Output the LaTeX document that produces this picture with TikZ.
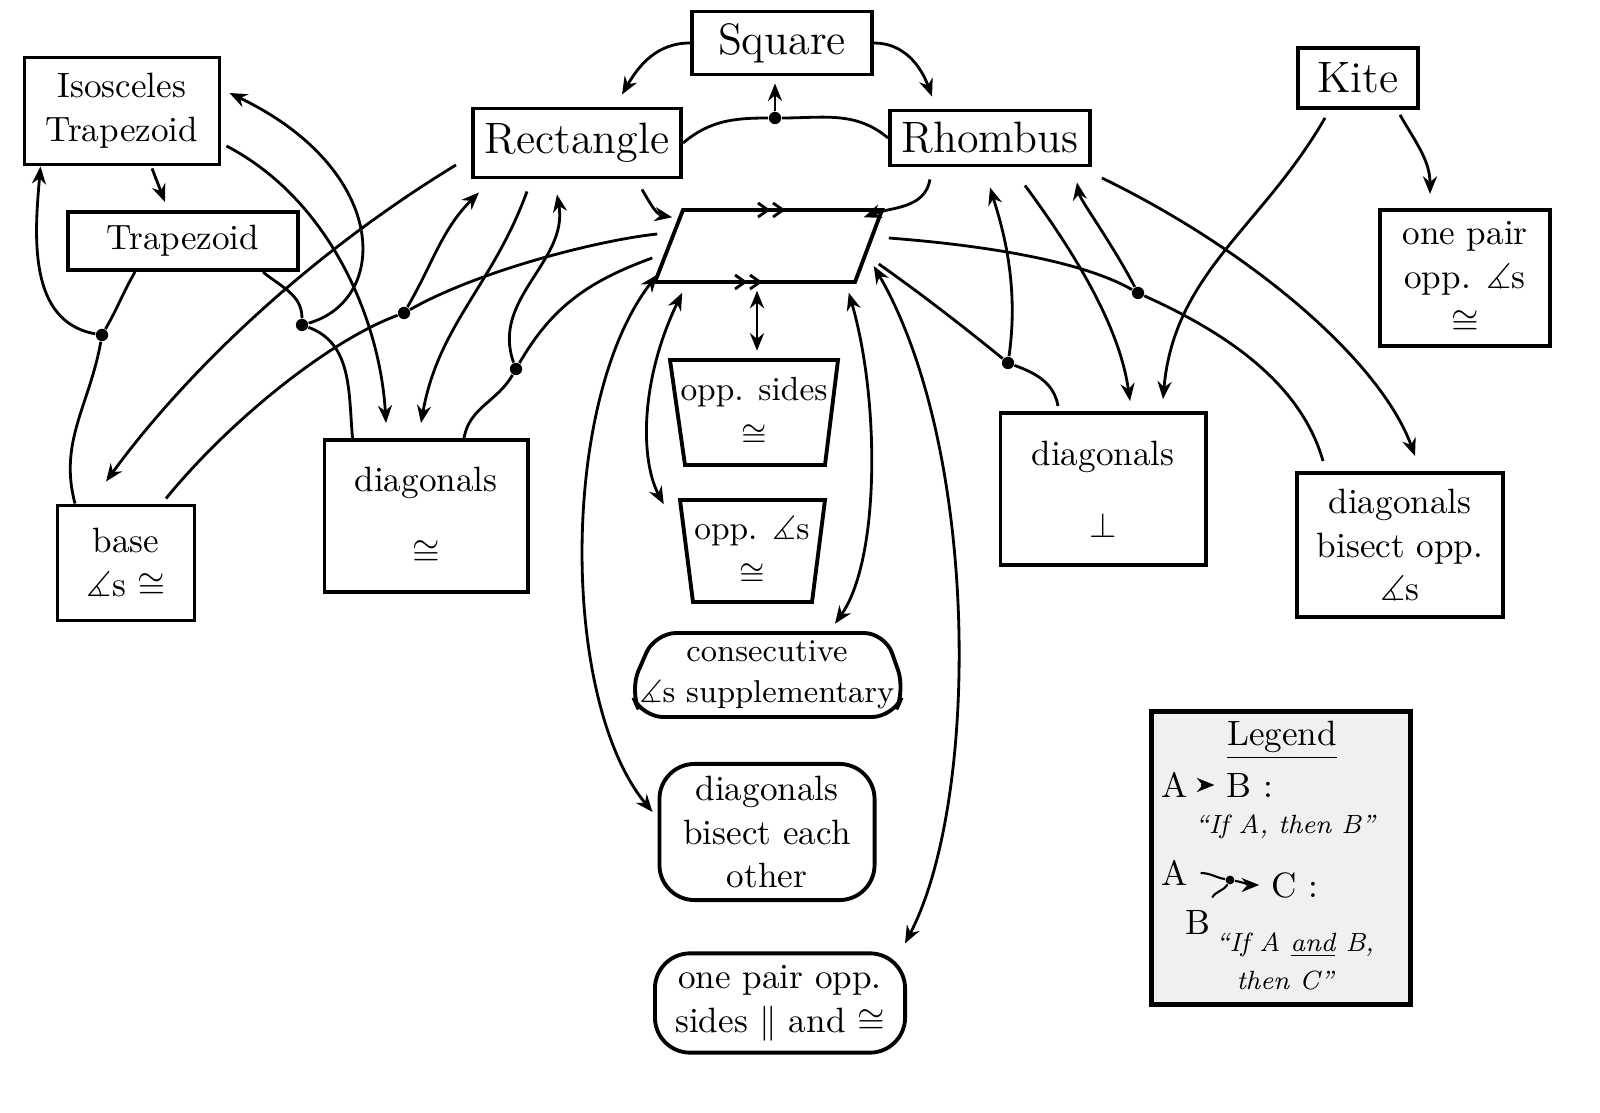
\documentclass[tikz,border=0pt]{standalone}
\usepackage{amssymb}
\usetikzlibrary{arrows.meta,calc}
\begin{document}
\begin{tikzpicture}[x=0.01cm,y=-0.01cm,
 bx/.style={draw,line width=1.1pt,align=center,font=\fontsize{10}{12.5}\selectfont},
 tx/.style={align=center,font=\fontsize{10}{12.5}\selectfont},
 big/.style={font=\fontsize{12.5}{13}\selectfont},
 shp/.style={line width=1.1pt},
 con/.style={line width=0.8pt},
 arr/.style={con,-{Stealth[length=5pt,width=4pt]}},
 darr/.style={con,{Stealth[length=5pt,width=4pt]}-{Stealth[length=5pt,width=4pt]}},
 dot/.style={circle,fill,inner sep=0pt,minimum size=3.5pt}]
\useasboundingbox (0,0) rectangle (1600,1113);
% nodes
\node[bx,big,minimum width=1.8cm,minimum height=0.63cm] (sq) at (782,43) {Square};
\node[bx,big,minimum width=2.0cm,minimum height=0.69cm] (rect) at (577,143) {Rectangle};
\node[bx,big,minimum width=1.7cm,minimum height=0.55cm] (rhom) at (990,138) {Rhombus};
\node[bx,big,minimum width=1.2cm,minimum height=0.6cm] (kite) at (1358,78) {Kite};
\node[bx,minimum width=1.95cm,minimum height=1.07cm] (iso) at (122,111) {Isosceles\\Trapezoid};
\node[bx,minimum width=2.3cm,minimum height=0.58cm] (trap) at (183,241) {Trapezoid};
\node[bx,minimum width=1.7cm,minimum height=1.15cm] (onepair) at (1465,278) {one pair\\opp. $\measuredangle$s\\$\cong$};
\node[bx,minimum width=1.37cm,minimum height=1.15cm] (base) at (126,563) {base\\$\measuredangle$s $\cong$};
\node[bx,minimum width=2.03cm,minimum height=1.52cm] (diagc) at (426,516) {diagonals\\[8pt]$\cong$};
\node[bx,minimum width=2.05cm,minimum height=1.52cm] (perp) at (1103,489) {diagonals\\[8pt]$\perp$};
\node[bx,minimum width=2.06cm,minimum height=1.44cm] (bopp) at (1400,545) {diagonals\\bisect opp.\\$\measuredangle$s};
% trapezium-shaped boxes
\node[tx,font=\fontsize{9.5}{12.5}\selectfont,minimum width=1.68cm,minimum height=1.05cm] (opps) at (754,412) {opp. sides\\$\cong$};
\draw[shp] (670,360)--(838,360)--(825,465)--(685,465)--cycle;
\node[tx,font=\fontsize{9.5}{12.5}\selectfont,minimum width=1.45cm,minimum height=1.02cm] (oppa) at (752,551) {opp. $\measuredangle$s\\$\cong$};
\draw[shp] (680,500)--(825,500)--(812,602)--(693,602)--cycle;
\node[tx,font=\fontsize{9}{11.5}\selectfont,minimum width=2.75cm,minimum height=0.84cm] (cons) at (767,675) {consecutive\\$\measuredangle$s supplementary};
\draw[shp,rounded corners=6pt] (655,633)--(885,633)--(905,690)--(893,717)--(642,717)--(630,690)--cycle;
\node[bx,rounded corners=10pt,minimum width=2.15cm,minimum height=1.17cm] (bis) at (767,832) {diagonals\\bisect each\\other};
\node[bx,rounded corners=10pt,minimum width=2.5cm,minimum height=0.83cm] (onepo) at (780,1003) {one pair opp.\\sides $\parallel$ and $\cong$};
% parallelogram
\node[minimum width=2.0cm,minimum height=0.72cm] (par) at (768,246) {};
\draw[shp] (683,210)--(882,210)--(855,282)--(655,282)--cycle;
\draw[con] (758,203)--(768,210)--(758,217) (773,203)--(783,210)--(773,217);
\draw[con] (735,275)--(745,282)--(735,289) (750,275)--(760,282)--(750,289);
% dots
\node[dot] (dR) at (775,118) {};
\node[dot] (d1) at (102,335) {};
\node[dot] (d2) at (302,325) {};
\node[dot] (d3) at (404,313) {};
\node[dot] (d4) at (516,369) {};
\node[dot] (d5) at (1008,363) {};
\node[dot] (d6) at (1138,293) {};
% connectors
\draw[arr] (sq.west) to[out=180,in=60] ($(rect.north)+(45,-12)$);
\draw[arr] (sq.east) to[out=0,in=110] ($(rhom.north)+(-58,-12)$);
\draw[con] (rect.east) to[out=40,in=180] (dR) to[out=0,in=140] (rhom.west);
\draw[arr] (dR) -- ($(sq.south)+(-7,7)$);
\draw[arr] ($(rect.south)+(65,10)$) to[out=-60,in=170] ($(par.north west)+(5,8)$);
\draw[arr] ($(rhom.south)+(-60,12)$) to[out=-100,in=20] ($(par.north east)+(-5,8)$);
\draw[arr] ($(kite.south)+(42,5)$) to[out=-60,in=90] ($(onepair.north)+(-35,-14)$);
\draw[arr] ($(kite.south)+(-33,8)$) to[out=-120,in=85] ($(perp.north)+(60,-12)$);
\draw[arr] ($(iso.south)+(30,2)$) -- ($(trap.north)+(-18,-8)$);
\draw[con] ($(trap.south)+(-48,0)$) to[out=-120,in=60] (d1);
\draw[con] ($(base.north)+(-51,0)$) to[out=105,in=-100] (d1);
\draw[arr] (d1) to[out=170,in=-95] ($(iso.south west)+(18,0)$);
\draw[con] ($(trap.south)+(80,0)$) to[out=-40,in=90] (d2);
\draw[con] ($(diagc.north west)+(30,0)$) to[out=95,in=-20] (d2);
\draw[arr] (d2) .. controls (390,300) and (390,170) .. ($(iso.east)+(8,-18)$);
\draw[arr] ($(iso.east)+(5,35)$) .. controls (330,200) and (380,320) .. ($(diagc.north)+(-40,-15)$);
\draw[arr] ($(rect.west)+(-15,22)$) .. controls (300,260) and (180,380) .. ($(base.north)+(-20,-22)$);
\draw[con] ($(base.north)+(40,-5)$) .. controls (230,420) and (330,340) .. (d3) .. controls (480,270) and (600,240) .. ($(par.west)+(-10,-12)$);
\draw[arr] (d3) to[out=60,in=-135] ($(rect.south west)+(8,13)$);
\draw[arr] ($(rect.south)+(-50,12)$) to[out=-110,in=80] ($(diagc.north)+(-5,-15)$);
\draw[con] ($(diagc.north)+(38,0)$) to[out=80,in=-120] (d4) to[out=60,in=200] ($(par.west)+(-15,12)$);
\draw[arr] (d4) to[out=110,in=-80] ($(rect.south)+(-20,15)$);
\draw[darr] ($(par.south)+(-11,8)$) -- ($(opps.north)+(3,-8)$);
\draw[darr] ($(par.south west)+(15,10)$) .. controls (640,380) and (640,460) .. ($(oppa.north west)+(-15,5)$);
\draw[darr] ($(par.south east)+(-20,10)$) .. controls (880,400) and (880,560) .. ($(cons.north)+(68,-5)$);
\draw[darr] ($(par.south west)+(-10,-8)$) .. controls (560,400) and (560,700) .. ($(bis.west)+(-5,-20)$);
\draw[darr] ($(par.east)+(5,20)$) .. controls (980,450) and (980,800) .. ($(onepo.north)+(125,-8)$);
\draw[con] ($(par.east)+(10,18)$) .. controls (930,300) and (980,340) .. (d5) to[out=-20,in=100] ($(perp.north)+(-45,-5)$);
\draw[arr] (d5) .. controls (1020,280) and (1000,220) .. ($(rhom.south)+(0,20)$);
\draw[arr] ($(rhom.south)+(35,18)$) .. controls (1080,260) and (1120,330) .. ($(perp.north)+(27,-10)$);
\draw[con] ($(par.east)+(20,-8)$) .. controls (980,245) and (1080,260) .. (d6) .. controls (1220,330) and (1300,380) .. ($(bopp.north west)+(28,-10)$);
\draw[arr] (d6) .. controls (1110,240) and (1080,200) .. ($(rhom.south east)+(-15,15)$);
\draw[arr] ($(rhom.east)+(10,40)$) .. controls (1250,250) and (1380,360) .. ($(bopp.north)+(15,-15)$);
% legend
\node[draw,line width=1.4pt,fill=gray!12,minimum width=2.58cm,minimum height=2.93cm] (leg) at (1281,858) {};
\node[tx] (lt) at (1282,740) {\underline{Legend}};
\node[tx] (la) at (1175,785) {A};
\node[tx] (lb) at (1250,785) {B :};
\draw[arr,line width=0.6pt] (la) -- (lb);
\node[tx,font=\fontsize{7.5}{8}\selectfont] (l1) at (1285,827) {\itshape ``If A, then B''};
\node[tx] (la2) at (1175,873) {A};
\node[dot,minimum size=2.5pt] (ld) at (1230,880) {};
\node[tx] (lc) at (1295,885) {C :};
\node[tx] (lb2) at (1198,922) {B};
\draw[con,line width=0.6pt] (la2) to[out=0,in=170] (ld);
\draw[arr,line width=0.6pt] (ld) to[out=-10,in=180] (lc);
\draw[con,line width=0.6pt] (lb2) to[out=60,in=-120] (ld);
\node[tx,font=\fontsize{7.5}{8}\selectfont] (l2) at (1295,945) {\itshape ``If A \underline{and} B,};
\node[tx,font=\fontsize{7.5}{8}\selectfont] (l3) at (1285,980) {\itshape then C''};
\end{tikzpicture}
\end{document}
